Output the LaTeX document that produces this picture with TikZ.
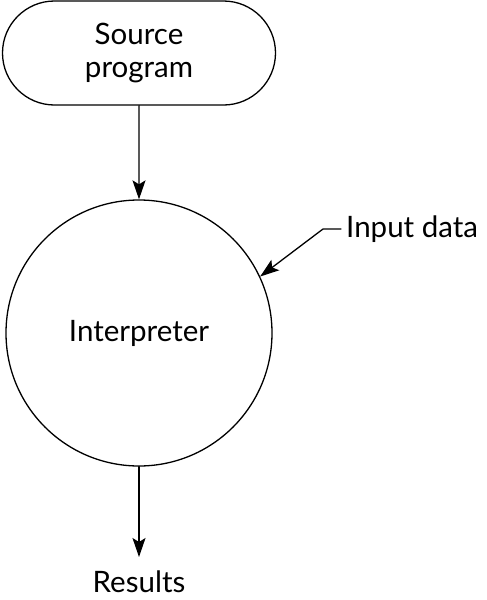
\documentclass[tikz,border=0pt]{standalone}
\usepackage{fontspec}
\setmainfont{Lato}
\usepackage{tikz}
\usetikzlibrary{arrows.meta}
\usetikzlibrary{shapes.misc}

\begin{document}
\begin{tikzpicture}[line cap=round,line join=round,>={Stealth[length=19pt,width=13pt,inset=4pt]},x=1pt,y=-1pt,
  txt/.style={font=\fontsize{29.5}{33}\selectfont,align=center,inner sep=0pt}]
\useasboundingbox (0,0) rectangle (487,600);
\node [draw,line width=1.3pt,rounded rectangle,minimum width=273pt,minimum height=104pt,txt] (source) at (139,53) {Source\\program};
\node [draw,line width=1.3pt,circle,minimum size=266pt,txt] (interp) at (139,333) {Interpreter};
\node [txt,anchor=west] (input) at (346,229) {Input data};
\node [txt] (results) at (139,582) {Results};
\coordinate (bend) at (323,229);
\coordinate (inputend) at (341,229);
\coordinate (resultsend) at (139,557);
\draw [line width=1.3pt,->] (source) -- (interp);
\draw [line width=1.3pt,->] (interp) -- (resultsend);
\draw [line width=1.3pt,->] (inputend) -- (bend) -- (interp.25);
\end{tikzpicture}
\end{document}
